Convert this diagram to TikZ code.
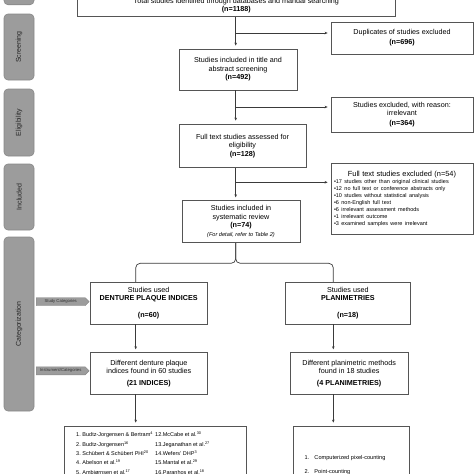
\documentclass[tikz,border=0pt]{standalone}
\usepackage{fontspec}
\setmainfont{Liberation Sans}
\usetikzlibrary{arrows.meta,shapes.symbols}
\newcommand{\myfs}[2]{\fontsize{#1}{#2}\selectfont}
\definecolor{boxc}{HTML}{555555}
\definecolor{linec}{HTML}{3A3A3A}
\definecolor{stagefill}{HTML}{9C9C9C}
\definecolor{stagedraw}{HTML}{888888}
\begin{document}
\begin{tikzpicture}[x=1pt,y=-1pt,
  box/.style={draw=boxc, line width=0.8pt, fill=white, inner sep=0pt, align=center, font=\myfs{7.2}{8.5}},
  stage/.style={draw=stagedraw, fill=stagefill, rounded corners=4pt, line width=0.6pt, minimum width=30pt, inner sep=0pt},
  stagelabel/.style={rotate=90, font=\myfs{7}{8}, text=black!85, inner sep=0pt},
  arr/.style={draw=linec, line width=0.7pt, -{Stealth[length=3pt,width=2.6pt]}, shorten >=3pt},
  ln/.style={draw=linec, line width=0.7pt},
  tag/.style={shape=signal, signal to=east, fill=stagefill, draw=stagedraw, line width=0.4pt, inner sep=0pt, minimum height=8pt, minimum width=53pt, font=\myfs{4.2}{5}, text=black!80}
]
\useasboundingbox (0,0) rectangle (474,474);
\clip (0,0) rectangle (474,474);

% stage boxes
\node[stage, minimum height=44.7pt] (sid) at (19,-17.6) {};
\node[stage, minimum height=66pt] (sscr) at (19,47) {};
\node[stage, minimum height=67pt] (selig) at (19,122.5) {};
\node[stage, minimum height=66pt] (sinc) at (19,197) {};
\node[stage, minimum height=174pt] (scat) at (19,324) {};
\node[stagelabel] (lscr) at (sscr) {Screening};
\node[stagelabel] (lelig) at (selig) {Eligibility};
\node[stagelabel] (linc) at (sinc) {Included};
\node[stagelabel] (lcat) at (scat) {Categorization};
\node[tag] (tstudy) at (60.7,301.7) {Study Categories};
\node[tag] (tinst) at (60.7,370.8) {Instrument/Categories};

% main boxes
\node[box, minimum width=318.7pt, minimum height=22.6pt] (top) at (236.35,5.4)
  {Total studies identified through databases and manual searching\\\textbf{(n=1188)}};
\node[box, minimum width=142pt, minimum height=32pt] (dup) at (402,38)
  {Duplicates of studies excluded\\[1.5pt]\textbf{(n=696)}};
\node[box, minimum width=118pt, minimum height=41pt] (scr) at (238,69.5)
  {Studies included in title and\\abstract screening\\\textbf{(n=492)}};
\node[box, minimum width=142pt, minimum height=35pt] (ex2) at (402,114.5)
  {Studies excluded, with reason:\\irrelevant\\[1.5pt]\textbf{(n=364)}};
\node[box, minimum width=127pt, minimum height=43.7pt] (ft) at (242.5,145.85)
  {Full text studies assessed for\\eligibility\\\textbf{(n=128)}};
\node[box, minimum width=142pt, minimum height=70.6pt, text width=136pt, align=left] (ex3) at (402,199)
  {\centering\myfs{7.4}{9}Full text studies excluded (n=54)\par
   \raggedright\myfs{5.5}{7.1}%
   •17 studies other than original clinical studies\\
   •12 no full text or conference abstracts only\\
   •10 studies without statistical analysis\\
   •6 non-English full text\\
   •6 irrelevant assessment methods\\
   •1 irrelevant outcome\\
   •3 examined samples were irrelevant\par};
\node[box, minimum width=118pt, minimum height=42pt] (inc) at (241,221.7)
  {Studies included in\\systematic review\\\textbf{(n=74)}\\{\myfs{5.6}{8.5}\itshape (For detail, refer to Table 2)}};

\node[box, minimum width=117.3pt, minimum height=41.7pt] (dpi) at (148.65,303.15)
  {Studies used\\\textbf{DENTURE PLAQUE INDICES}\\[8.5pt]\textbf{(n=60)}};
\node[box, minimum width=124.3pt, minimum height=41.7pt] (plan) at (347.85,303.15)
  {Studies used\\\textbf{PLANIMETRIES}\\[8.5pt]\textbf{(n=18)}};
\node[box, minimum width=117.7pt, minimum height=41.3pt] (di) at (148.85,373.35)
  {Different denture plaque\\indices found in 60 studies\\[3pt]\textbf{(21 INDICES)}};
\node[box, minimum width=118.3pt, minimum height=41.3pt] (pm) at (349.15,373.35)
  {Different planimetric methods\\found in 18 studies\\[3pt]\textbf{(4 PLANIMETRIES)}};
\node[box, minimum width=181.7pt, minimum height=94pt] (lst) at (155.15,473) {};
\node[box, minimum width=115.7pt, minimum height=94pt] (plst) at (351.15,473) {};

\node[anchor=north west, inner sep=0pt, font=\myfs{5.5}{9.4}] (lsttext) at (76,429.9)
  {\begin{tabular}{@{}p{79pt}@{}l@{}}
   \makebox[6.3pt][l]{1.}Budtz-Jorgensen \& Bertram\textsuperscript{4} & 12.McCabe et al.\textsuperscript{30}\\
   \makebox[6.3pt][l]{2.}Budtz-Jorgensen\textsuperscript{16} & 13.Jeganathan et al.\textsuperscript{27}\\
   \makebox[6.3pt][l]{3.}Schübert \& Schübert PHI\textsuperscript{20} & 14.Wefers' DHP\textsuperscript{3}\\
   \makebox[6.3pt][l]{4.}Abelson et al.\textsuperscript{19} & 15.Mantal et al.\textsuperscript{29}\\
   \makebox[6.3pt][l]{5.}Ambjørnsen et al.\textsuperscript{17} & 16.Paranhos et al.\textsuperscript{18}\\
   \end{tabular}};
\node[anchor=north west, inner sep=0pt, font=\myfs{5.6}{14}] (plsttext) at (304.3,449.7)
  {\begin{tabular}{@{}l@{}l@{}}
   \makebox[10pt][l]{1.} & Computerized pixel-counting\\
   \makebox[10pt][l]{2.} & Point-counting\\
   \end{tabular}};

% connectors
\coordinate (mx) at (235.7,0);
\coordinate (lx) at (135.7,0);
\coordinate (rx) at (333.3,0);
\coordinate (b1) at (235.7,33);
\coordinate (b2) at (235.7,107);
\coordinate (b3) at (235.7,182.3);
\coordinate (bj) at (235.7,263.3);

\draw[arr] (top.south -| mx) -- (scr.north -| mx);
\draw[arr] (b1) -- (dup.west |- b1);
\draw[arr] (scr.south -| mx) -- (ft.north -| mx);
\draw[arr] (b2) -- (ex2.west |- b2);
\draw[arr] (ft.south -| mx) -- (inc.north -| mx);
\draw[arr] (b3) -- (ex3.west |- b3);

\draw[ln, rounded corners=4.5pt] (inc.south -| mx) -- (bj) -- (bj -| lx) -- (dpi.north -| lx);
\draw[ln, rounded corners=4.5pt] (inc.south -| mx) -- (bj) -- (bj -| rx) -- (plan.north -| rx);

\draw[arr] (dpi.south -| lx) -- (di.north -| lx);
\draw[arr] (plan.south -| rx) -- (pm.north -| rx);
\draw[arr] (di.south -| lx) -- (lst.north -| lx);
\draw[arr] (pm.south -| rx) -- (plst.north -| rx);
\end{tikzpicture}
\end{document}
